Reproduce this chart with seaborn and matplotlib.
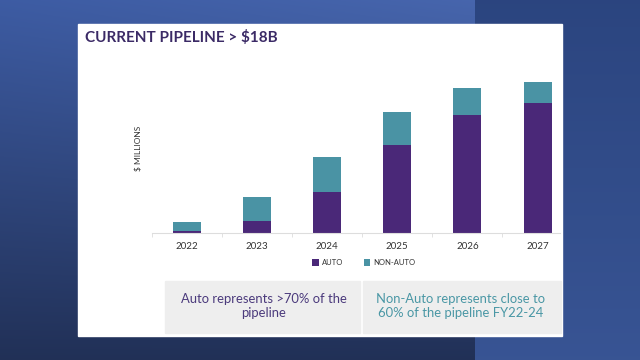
import numpy as np
import pandas as pd
import matplotlib
matplotlib.use("Agg")
import matplotlib.pyplot as plt
from matplotlib.patches import Rectangle
import seaborn as sns

# data ($ millions)
years = ["2022", "2023", "2024", "2025", "2026", "2027"]
auto = [90, 400, 1370, 2930, 3940, 4340]
non_auto = [300, 800, 1150, 1100, 880, 700]

title = "CURRENT PIPELINE > $18B"
note_auto = "Auto represents >70% of the\npipeline"
note_non_auto = "Non-Auto represents close to\n60% of the pipeline FY22-24"

AUTO_C = "#4a2878"
NON_AUTO_C = "#4a93a4"

sns.set_theme(style="white")
plt.rcParams["font.family"] = ["Lato", "DejaVu Sans"]

W, H = 640, 360
fig = plt.figure(figsize=(6.4, 3.6), dpi=100)

# slide background gradient
bg = fig.add_axes([0, 0, 1, 1])
yy = np.linspace(0, 1, H)[:, None]
xx = np.linspace(0, 1, W)[None, :]
top_l, bot_l = np.array([0.24, 0.36, 0.64]), np.array([0.13, 0.19, 0.34])
top_r, bot_r = np.array([0.17, 0.27, 0.50]), np.array([0.22, 0.33, 0.58])
img_l = top_l + (bot_l - top_l) * yy[..., None]
img_r = top_r + (bot_r - top_r) * yy[..., None]
img = np.where((xx < 475 / W)[..., None], img_l + 0.05 * (xx[..., None] * (1 - yy[..., None])), img_r)
bg.imshow(np.clip(img, 0, 1), aspect="auto", extent=[0, W, H, 0])
bg.set_xlim(0, W)
bg.set_ylim(H, 0)
bg.axis("off")

# white card
bg.add_patch(Rectangle((78, 24), 484, 312, color="white", zorder=2))
bg.add_patch(Rectangle((165, 281), 195, 52, color="#eeeeee", zorder=3))
bg.add_patch(Rectangle((363, 281), 198, 52, color="#eeeeee", zorder=3))
bg.text(85, 38, title, fontsize=11, fontweight="bold", color="#3b2a66",
        va="center", ha="left", zorder=4)
bg.text(264, 306, note_auto, fontsize=9.4, color="#4b3a7c", ha="center",
        va="center", linespacing=1.25, zorder=4)
bg.text(461, 306, note_non_auto, fontsize=9.4, color="#4a97a5", ha="center",
        va="center", linespacing=1.25, zorder=4)

# chart
ax = fig.add_axes([151.7 / W, 1 - 233.3 / H, (560 - 151.7) / W, (233.3 - 60) / H])
ax.set_facecolor("none")
df = pd.DataFrame({"year": years, "AUTO": auto, "NON-AUTO": non_auto})
df["total"] = df["AUTO"] + df["NON-AUTO"]
sns.barplot(data=df, x="year", y="total", color=NON_AUTO_C, width=0.4,
            saturation=1, linewidth=0, ax=ax, label="NON-AUTO")
sns.barplot(data=df, x="year", y="AUTO", color=AUTO_C, width=0.4,
            saturation=1, linewidth=0, ax=ax, label="AUTO")
ax.set_xlim(-0.49, 5.32)
ax.set_ylim(0, 5760)
ax.set_yticks([])
ax.set_xlabel("")
ax.set_ylabel("$ MILLIONS", fontsize=6, color="#333333")
ax.yaxis.set_label_coords(-0.024, 0.49)
for s in ["top", "right", "left"]:
    ax.spines[s].set_visible(False)
ax.spines["bottom"].set_color("#dddddd")
ax.spines["bottom"].set_linewidth(0.8)
ax.tick_params(axis="x", labelsize=7, colors="#333333", length=0, pad=6)
ax.set_xticks(np.arange(-0.5, 5.5, 1), minor=True)
ax.tick_params(axis="x", which="minor", length=3, color="#dddddd", width=0.6, bottom=True)

handles, labels = ax.get_legend_handles_labels()
order = [labels.index("AUTO"), labels.index("NON-AUTO")]
leg = ax.legend([handles[i] for i in order], [labels[i] for i in order],
                loc="upper center", bbox_to_anchor=(0.52, -0.13), ncol=2,
                frameon=False, fontsize=5.5, handlelength=0.9, handleheight=1.1,
                handletextpad=0.4, columnspacing=2.6, borderaxespad=0)
for t in leg.get_texts():
    t.set_color("#333333")

fig.savefig("out.png", dpi=100)
